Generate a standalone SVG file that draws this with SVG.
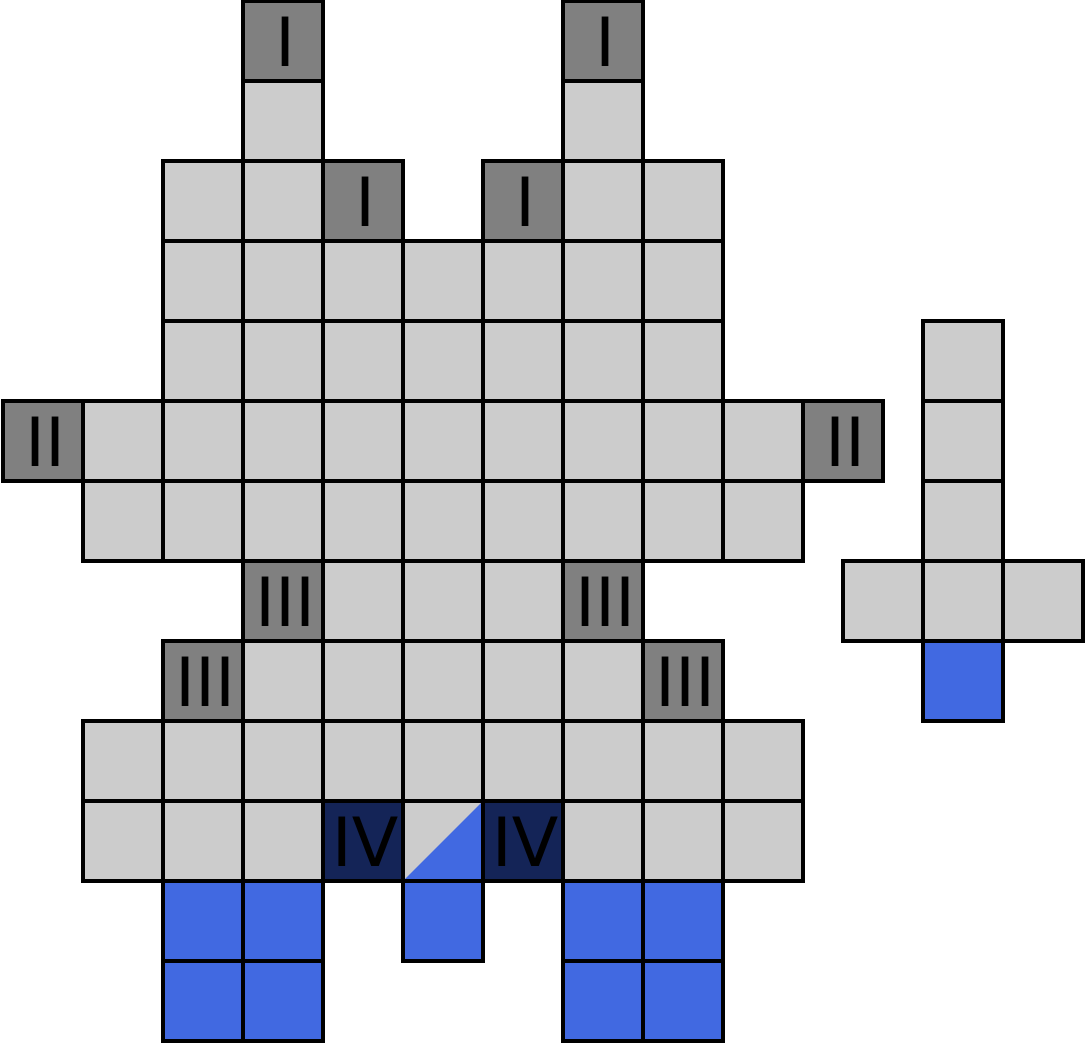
<svg xmlns="http://www.w3.org/2000/svg" width="1086" height="1046" viewBox="0 0 1086 1046">
<style>
rect{stroke:#000;stroke-width:4}
.l{fill:#cccccc}.d{fill:#808080}.b{fill:#4169e1}.n{fill:#142457}
text{font-family:"DejaVu Sans",sans-serif;font-size:68px;fill:#000;text-anchor:middle}
</style>
<rect x="0" y="0" width="1086" height="1046" fill="#fff" style="stroke:none"/>
<g id="cells">
<g id="c0_3"><rect class="d" x="243" y="1" width="80" height="80"/><text x="285" y="66">I</text></g>
<g id="c0_7"><rect class="d" x="563" y="1" width="80" height="80"/><text x="605" y="66">I</text></g>
<g id="c1_3"><rect class="l" x="243" y="81" width="80" height="80"/></g>
<g id="c1_7"><rect class="l" x="563" y="81" width="80" height="80"/></g>
<g id="c2_2"><rect class="l" x="163" y="161" width="80" height="80"/></g>
<g id="c2_3"><rect class="l" x="243" y="161" width="80" height="80"/></g>
<g id="c2_4"><rect class="d" x="323" y="161" width="80" height="80"/><text x="365" y="226">I</text></g>
<g id="c2_6"><rect class="d" x="483" y="161" width="80" height="80"/><text x="525" y="226">I</text></g>
<g id="c2_7"><rect class="l" x="563" y="161" width="80" height="80"/></g>
<g id="c2_8"><rect class="l" x="643" y="161" width="80" height="80"/></g>
<g id="c3_2"><rect class="l" x="163" y="241" width="80" height="80"/></g>
<g id="c3_3"><rect class="l" x="243" y="241" width="80" height="80"/></g>
<g id="c3_4"><rect class="l" x="323" y="241" width="80" height="80"/></g>
<g id="c3_5"><rect class="l" x="403" y="241" width="80" height="80"/></g>
<g id="c3_6"><rect class="l" x="483" y="241" width="80" height="80"/></g>
<g id="c3_7"><rect class="l" x="563" y="241" width="80" height="80"/></g>
<g id="c3_8"><rect class="l" x="643" y="241" width="80" height="80"/></g>
<g id="c4_2"><rect class="l" x="163" y="321" width="80" height="80"/></g>
<g id="c4_3"><rect class="l" x="243" y="321" width="80" height="80"/></g>
<g id="c4_4"><rect class="l" x="323" y="321" width="80" height="80"/></g>
<g id="c4_5"><rect class="l" x="403" y="321" width="80" height="80"/></g>
<g id="c4_6"><rect class="l" x="483" y="321" width="80" height="80"/></g>
<g id="c4_7"><rect class="l" x="563" y="321" width="80" height="80"/></g>
<g id="c4_8"><rect class="l" x="643" y="321" width="80" height="80"/></g>
<g id="c5_0"><rect class="d" x="3" y="401" width="80" height="80"/><text x="45" y="466">II</text></g>
<g id="c5_1"><rect class="l" x="83" y="401" width="80" height="80"/></g>
<g id="c5_2"><rect class="l" x="163" y="401" width="80" height="80"/></g>
<g id="c5_3"><rect class="l" x="243" y="401" width="80" height="80"/></g>
<g id="c5_4"><rect class="l" x="323" y="401" width="80" height="80"/></g>
<g id="c5_5"><rect class="l" x="403" y="401" width="80" height="80"/></g>
<g id="c5_6"><rect class="l" x="483" y="401" width="80" height="80"/></g>
<g id="c5_7"><rect class="l" x="563" y="401" width="80" height="80"/></g>
<g id="c5_8"><rect class="l" x="643" y="401" width="80" height="80"/></g>
<g id="c5_9"><rect class="l" x="723" y="401" width="80" height="80"/></g>
<g id="c5_10"><rect class="d" x="803" y="401" width="80" height="80"/><text x="845" y="466">II</text></g>
<g id="c6_1"><rect class="l" x="83" y="481" width="80" height="80"/></g>
<g id="c6_2"><rect class="l" x="163" y="481" width="80" height="80"/></g>
<g id="c6_3"><rect class="l" x="243" y="481" width="80" height="80"/></g>
<g id="c6_4"><rect class="l" x="323" y="481" width="80" height="80"/></g>
<g id="c6_5"><rect class="l" x="403" y="481" width="80" height="80"/></g>
<g id="c6_6"><rect class="l" x="483" y="481" width="80" height="80"/></g>
<g id="c6_7"><rect class="l" x="563" y="481" width="80" height="80"/></g>
<g id="c6_8"><rect class="l" x="643" y="481" width="80" height="80"/></g>
<g id="c6_9"><rect class="l" x="723" y="481" width="80" height="80"/></g>
<g id="c7_3"><rect class="d" x="243" y="561" width="80" height="80"/><text x="285" y="626">III</text></g>
<g id="c7_4"><rect class="l" x="323" y="561" width="80" height="80"/></g>
<g id="c7_5"><rect class="l" x="403" y="561" width="80" height="80"/></g>
<g id="c7_6"><rect class="l" x="483" y="561" width="80" height="80"/></g>
<g id="c7_7"><rect class="d" x="563" y="561" width="80" height="80"/><text x="605" y="626">III</text></g>
<g id="c8_2"><rect class="d" x="163" y="641" width="80" height="80"/><text x="205" y="706">III</text></g>
<g id="c8_3"><rect class="l" x="243" y="641" width="80" height="80"/></g>
<g id="c8_4"><rect class="l" x="323" y="641" width="80" height="80"/></g>
<g id="c8_5"><rect class="l" x="403" y="641" width="80" height="80"/></g>
<g id="c8_6"><rect class="l" x="483" y="641" width="80" height="80"/></g>
<g id="c8_7"><rect class="l" x="563" y="641" width="80" height="80"/></g>
<g id="c8_8"><rect class="d" x="643" y="641" width="80" height="80"/><text x="685" y="706">III</text></g>
<g id="c9_1"><rect class="l" x="83" y="721" width="80" height="80"/></g>
<g id="c9_2"><rect class="l" x="163" y="721" width="80" height="80"/></g>
<g id="c9_3"><rect class="l" x="243" y="721" width="80" height="80"/></g>
<g id="c9_4"><rect class="l" x="323" y="721" width="80" height="80"/></g>
<g id="c9_5"><rect class="l" x="403" y="721" width="80" height="80"/></g>
<g id="c9_6"><rect class="l" x="483" y="721" width="80" height="80"/></g>
<g id="c9_7"><rect class="l" x="563" y="721" width="80" height="80"/></g>
<g id="c9_8"><rect class="l" x="643" y="721" width="80" height="80"/></g>
<g id="c9_9"><rect class="l" x="723" y="721" width="80" height="80"/></g>
<g id="c10_1"><rect class="l" x="83" y="801" width="80" height="80"/></g>
<g id="c10_2"><rect class="l" x="163" y="801" width="80" height="80"/></g>
<g id="c10_3"><rect class="l" x="243" y="801" width="80" height="80"/></g>
<g id="c10_4"><rect class="n" x="323" y="801" width="80" height="80"/><text x="365" y="866">IV</text></g>
<g id="c10_5"><rect class="l" x="403" y="801" width="80" height="80"/><polygon points="483,801 483,881 403,881" fill="#4169e1"/><rect x="403" y="801" width="80" height="80" fill="none"/></g>
<g id="c10_6"><rect class="n" x="483" y="801" width="80" height="80"/><text x="525" y="866">IV</text></g>
<g id="c10_7"><rect class="l" x="563" y="801" width="80" height="80"/></g>
<g id="c10_8"><rect class="l" x="643" y="801" width="80" height="80"/></g>
<g id="c10_9"><rect class="l" x="723" y="801" width="80" height="80"/></g>
<g id="c11_2"><rect class="b" x="163" y="881" width="80" height="80"/></g>
<g id="c11_3"><rect class="b" x="243" y="881" width="80" height="80"/></g>
<g id="c11_5"><rect class="b" x="403" y="881" width="80" height="80"/></g>
<g id="c11_7"><rect class="b" x="563" y="881" width="80" height="80"/></g>
<g id="c11_8"><rect class="b" x="643" y="881" width="80" height="80"/></g>
<g id="c12_2"><rect class="b" x="163" y="961" width="80" height="80"/></g>
<g id="c12_3"><rect class="b" x="243" y="961" width="80" height="80"/></g>
<g id="c12_7"><rect class="b" x="563" y="961" width="80" height="80"/></g>
<g id="c12_8"><rect class="b" x="643" y="961" width="80" height="80"/></g>
</g>
<g id="piece">
<g id="p0"><rect class="l" x="923" y="321" width="80" height="80"/></g>
<g id="p1"><rect class="l" x="923" y="401" width="80" height="80"/></g>
<g id="p2"><rect class="l" x="923" y="481" width="80" height="80"/></g>
<g id="p3"><rect class="l" x="843" y="561" width="80" height="80"/></g>
<g id="p4"><rect class="l" x="923" y="561" width="80" height="80"/></g>
<g id="p5"><rect class="l" x="1003" y="561" width="80" height="80"/></g>
<g id="p6"><rect class="b" x="923" y="641" width="80" height="80"/></g>
</g>
<g id="connectors"/>
</svg>
